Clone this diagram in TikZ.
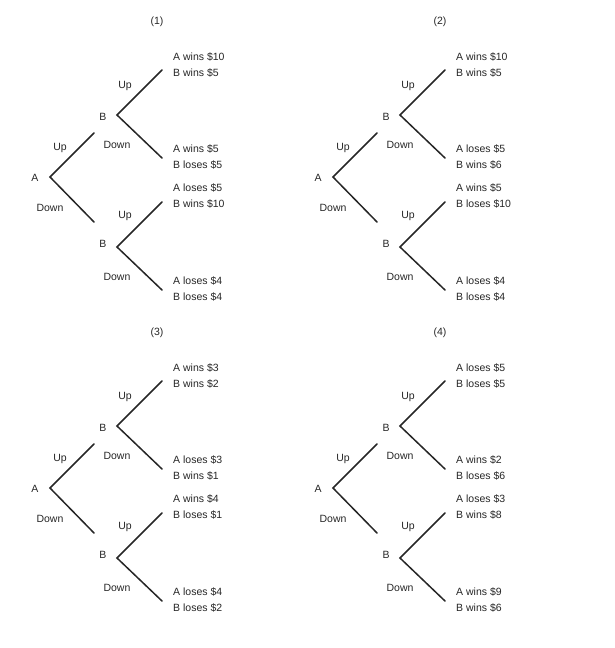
\documentclass[tikz,border=0pt]{standalone}
\usepackage{fontspec}
\setmainfont{Liberation Sans}
\begin{document}
\begin{tikzpicture}[x=1pt,y=-1pt,
  lbl/.style={font=\fontsize{10.5}{12}\selectfont,inner sep=0pt,text=black!85},
  pay/.style={font=\fontsize{10.5}{16}\selectfont,align=left,anchor=west,inner sep=0pt,text=black!85},
  br/.style={line width=1.5pt,line cap=round,draw=black!85},
  pics/gtree/.style n args={9}{code={
    \node[lbl] (-T) at (157,22) {#1};
    \node[lbl] (-Alab) at (35,178) {A};
    \coordinate (-A) at (50,177);
    \coordinate (-AU) at (94,133);
    \coordinate (-AD) at (94,222);
    \node[lbl] (-B1lab) at (103,117) {B};
    \coordinate (-B1) at (117,115);
    \coordinate (-B1U) at (162,70);
    \coordinate (-B1D) at (162,158);
    \node[lbl] (-B2lab) at (103,244) {B};
    \coordinate (-B2) at (117,247);
    \coordinate (-B2U) at (162,202);
    \coordinate (-B2D) at (162,290);
    \draw[br] (-AU) -- (-A) -- (-AD);
    \draw[br] (-B1U) -- (-B1) -- (-B1D);
    \draw[br] (-B2U) -- (-B2) -- (-B2D);
    \node[lbl] (-l1) at (60,148) {Up};
    \node[lbl] (-l2) at (50,208) {Down};
    \node[lbl] (-l3) at (125,86) {Up};
    \node[lbl] (-l4) at (117,145) {Down};
    \node[lbl] (-l5) at (125,216) {Up};
    \node[lbl] (-l6) at (117,277) {Down};
    \node[pay] (-p1) at (173,65) {#2\\#3};
    \node[pay] (-p2) at (173,157) {#4\\#5};
    \node[pay] (-p3) at (173,196) {#6\\#7};
    \node[pay] (-p4) at (173,289) {#8\\#9};
  }}]
\useasboundingbox (0,0) rectangle (614,648);
\pic (t1) at (0,0) {gtree={(1)}{A wins \$10}{B wins \$5}{A wins \$5}{B loses \$5}{A loses \$5}{B wins \$10}{A loses \$4}{B loses \$4}};
\pic (t2) at (283,0) {gtree={(2)}{A wins \$10}{B wins \$5}{A loses \$5}{B wins \$6}{A wins \$5}{B loses \$10}{A loses \$4}{B loses \$4}};
\pic (t3) at (0,311) {gtree={(3)}{A wins \$3}{B wins \$2}{A loses \$3}{B wins \$1}{A wins \$4}{B loses \$1}{A loses \$4}{B loses \$2}};
\pic (t4) at (283,311) {gtree={(4)}{A loses \$5}{B loses \$5}{A wins \$2}{B loses \$6}{A loses \$3}{B wins \$8}{A wins \$9}{B wins \$6}};
\end{tikzpicture}
\end{document}
